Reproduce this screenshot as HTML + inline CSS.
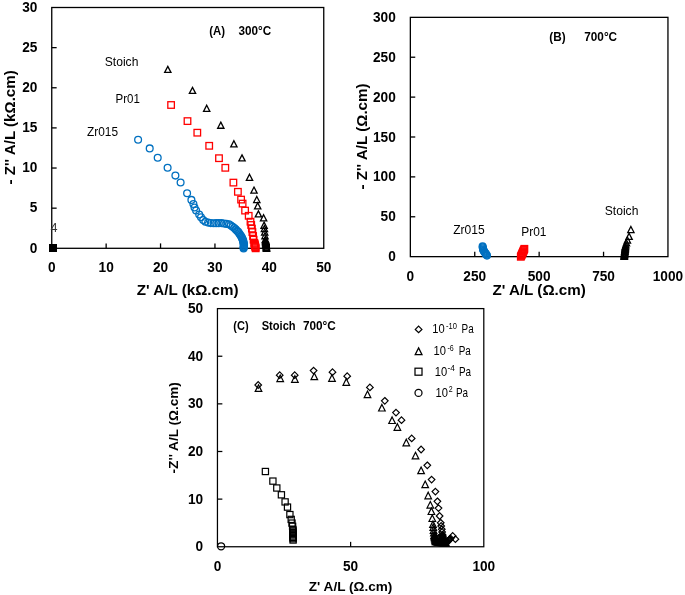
<!DOCTYPE html>
<html><head><meta charset="utf-8"><title>Impedance plots</title>
<style>html,body{margin:0;padding:0;background:#fff}svg{display:block}text{font-family:"Liberation Sans",sans-serif}</style>
</head><body>
<svg width="685" height="595" viewBox="0 0 685 595">
<rect width="685" height="595" fill="#fff"/>
<rect x="51.75" y="7.50" width="272.00" height="240.80" fill="none" stroke="#000" stroke-width="1.3"/>
<line x1="106.15" y1="248.30" x2="106.15" y2="243.40" stroke="#000" stroke-width="1.3"/>
<line x1="160.55" y1="248.30" x2="160.55" y2="243.40" stroke="#000" stroke-width="1.3"/>
<line x1="214.95" y1="248.30" x2="214.95" y2="243.40" stroke="#000" stroke-width="1.3"/>
<line x1="269.35" y1="248.30" x2="269.35" y2="243.40" stroke="#000" stroke-width="1.3"/>
<line x1="51.75" y1="208.17" x2="56.65" y2="208.17" stroke="#000" stroke-width="1.3"/>
<line x1="51.75" y1="168.03" x2="56.65" y2="168.03" stroke="#000" stroke-width="1.3"/>
<line x1="51.75" y1="127.90" x2="56.65" y2="127.90" stroke="#000" stroke-width="1.3"/>
<line x1="51.75" y1="87.77" x2="56.65" y2="87.77" stroke="#000" stroke-width="1.3"/>
<line x1="51.75" y1="47.63" x2="56.65" y2="47.63" stroke="#000" stroke-width="1.3"/>
<text x="37.40" y="252.60" font-size="14.4" font-weight="bold" text-anchor="end" textLength="7.6" lengthAdjust="spacingAndGlyphs" fill="#000">0</text>
<text x="37.40" y="212.47" font-size="14.4" font-weight="bold" text-anchor="end" textLength="7.6" lengthAdjust="spacingAndGlyphs" fill="#000">5</text>
<text x="37.40" y="172.33" font-size="14.4" font-weight="bold" text-anchor="end" textLength="15.2" lengthAdjust="spacingAndGlyphs" fill="#000">10</text>
<text x="37.40" y="132.20" font-size="14.4" font-weight="bold" text-anchor="end" textLength="15.2" lengthAdjust="spacingAndGlyphs" fill="#000">15</text>
<text x="37.40" y="92.07" font-size="14.4" font-weight="bold" text-anchor="end" textLength="15.2" lengthAdjust="spacingAndGlyphs" fill="#000">20</text>
<text x="37.40" y="51.93" font-size="14.4" font-weight="bold" text-anchor="end" textLength="15.2" lengthAdjust="spacingAndGlyphs" fill="#000">25</text>
<text x="37.40" y="11.80" font-size="14.4" font-weight="bold" text-anchor="end" textLength="15.2" lengthAdjust="spacingAndGlyphs" fill="#000">30</text>
<text x="51.75" y="272.40" font-size="14.4" font-weight="bold" text-anchor="middle" textLength="7.6" lengthAdjust="spacingAndGlyphs" fill="#000">0</text>
<text x="106.15" y="272.40" font-size="14.4" font-weight="bold" text-anchor="middle" textLength="15.2" lengthAdjust="spacingAndGlyphs" fill="#000">10</text>
<text x="160.55" y="272.40" font-size="14.4" font-weight="bold" text-anchor="middle" textLength="15.2" lengthAdjust="spacingAndGlyphs" fill="#000">20</text>
<text x="214.95" y="272.40" font-size="14.4" font-weight="bold" text-anchor="middle" textLength="15.2" lengthAdjust="spacingAndGlyphs" fill="#000">30</text>
<text x="269.35" y="272.40" font-size="14.4" font-weight="bold" text-anchor="middle" textLength="15.2" lengthAdjust="spacingAndGlyphs" fill="#000">40</text>
<text x="323.75" y="272.40" font-size="14.4" font-weight="bold" text-anchor="middle" textLength="15.2" lengthAdjust="spacingAndGlyphs" fill="#000">50</text>
<text x="136.80" y="294.50" font-size="14.0" font-weight="bold" textLength="101.7" lengthAdjust="spacingAndGlyphs" fill="#000">Z' A/L (kΩ.cm)</text>
<text transform="translate(15.30,184.60) rotate(-90)" font-size="14.2" font-weight="bold" textLength="114.4" lengthAdjust="spacingAndGlyphs" fill="#000">- Z'' A/L (kΩ.cm)</text>
<text x="209.30" y="34.60" font-size="12.8" font-weight="bold" textLength="15.8" lengthAdjust="spacingAndGlyphs" fill="#000">(A)</text>
<text x="238.50" y="34.60" font-size="12.8" font-weight="bold" textLength="32.7" lengthAdjust="spacingAndGlyphs" fill="#000">300°C</text>
<text x="104.80" y="65.80" font-size="13.3" textLength="33.6" lengthAdjust="spacingAndGlyphs" fill="#000">Stoich</text>
<text x="115.60" y="102.60" font-size="13.3" textLength="24.3" lengthAdjust="spacingAndGlyphs" fill="#000">Pr01</text>
<text x="87.00" y="136.20" font-size="13.3" textLength="31.0" lengthAdjust="spacingAndGlyphs" fill="#000">Zr015</text>
<text x="50.40" y="232.30" font-size="12.6" fill="#333">4</text>
<rect x="49.50" y="244.50" width="7.0" height="7.0" fill="#000" stroke="#000" stroke-width="1"/>
<circle cx="138.10" cy="139.80" r="3.4" fill="none" stroke="#0070c0" stroke-width="1.3"/>
<circle cx="149.70" cy="148.40" r="3.4" fill="none" stroke="#0070c0" stroke-width="1.3"/>
<circle cx="157.70" cy="157.70" r="3.4" fill="none" stroke="#0070c0" stroke-width="1.3"/>
<circle cx="167.60" cy="167.80" r="3.4" fill="none" stroke="#0070c0" stroke-width="1.3"/>
<circle cx="175.40" cy="175.60" r="3.4" fill="none" stroke="#0070c0" stroke-width="1.3"/>
<circle cx="180.60" cy="182.50" r="3.4" fill="none" stroke="#0070c0" stroke-width="1.3"/>
<circle cx="187.10" cy="193.20" r="3.4" fill="none" stroke="#0070c0" stroke-width="1.3"/>
<circle cx="191.40" cy="199.90" r="3.4" fill="none" stroke="#0070c0" stroke-width="1.3"/>
<circle cx="193.40" cy="204.00" r="3.4" fill="none" stroke="#0070c0" stroke-width="1.3"/>
<circle cx="194.50" cy="207.50" r="3.4" fill="none" stroke="#0070c0" stroke-width="1.3"/>
<circle cx="196.10" cy="210.50" r="3.4" fill="none" stroke="#0070c0" stroke-width="1.3"/>
<circle cx="199.20" cy="214.50" r="3.4" fill="none" stroke="#0070c0" stroke-width="1.3"/>
<circle cx="201.00" cy="217.30" r="3.4" fill="none" stroke="#0070c0" stroke-width="1.3"/>
<circle cx="203.20" cy="220.00" r="3.4" fill="none" stroke="#0070c0" stroke-width="1.3"/>
<circle cx="205.40" cy="221.70" r="3.4" fill="none" stroke="#0070c0" stroke-width="1.3"/>
<circle cx="208.10" cy="222.60" r="3.4" fill="none" stroke="#0070c0" stroke-width="1.3"/>
<circle cx="210.80" cy="223.10" r="3.4" fill="none" stroke="#0070c0" stroke-width="1.3"/>
<circle cx="213.60" cy="223.20" r="3.4" fill="none" stroke="#0070c0" stroke-width="1.3"/>
<circle cx="216.18" cy="223.17" r="3.4" fill="none" stroke="#0070c0" stroke-width="1.3"/>
<circle cx="218.76" cy="223.13" r="3.4" fill="none" stroke="#0070c0" stroke-width="1.3"/>
<circle cx="221.35" cy="223.10" r="3.4" fill="none" stroke="#0070c0" stroke-width="1.3"/>
<circle cx="223.90" cy="223.49" r="3.4" fill="none" stroke="#0070c0" stroke-width="1.3"/>
<circle cx="226.45" cy="223.90" r="3.4" fill="none" stroke="#0070c0" stroke-width="1.3"/>
<circle cx="229.00" cy="224.30" r="3.4" fill="none" stroke="#0070c0" stroke-width="1.3"/>
<circle cx="230.90" cy="225.59" r="3.4" fill="none" stroke="#0070c0" stroke-width="1.3"/>
<circle cx="232.66" cy="226.87" r="3.4" fill="none" stroke="#0070c0" stroke-width="1.3"/>
<circle cx="234.29" cy="228.10" r="3.4" fill="none" stroke="#0070c0" stroke-width="1.3"/>
<circle cx="235.71" cy="229.41" r="3.4" fill="none" stroke="#0070c0" stroke-width="1.3"/>
<circle cx="236.99" cy="230.69" r="3.4" fill="none" stroke="#0070c0" stroke-width="1.3"/>
<circle cx="238.21" cy="231.91" r="3.4" fill="none" stroke="#0070c0" stroke-width="1.3"/>
<circle cx="239.15" cy="233.22" r="3.4" fill="none" stroke="#0070c0" stroke-width="1.3"/>
<circle cx="239.99" cy="234.49" r="3.4" fill="none" stroke="#0070c0" stroke-width="1.3"/>
<circle cx="240.79" cy="235.69" r="3.4" fill="none" stroke="#0070c0" stroke-width="1.3"/>
<circle cx="241.50" cy="236.84" r="3.4" fill="none" stroke="#0070c0" stroke-width="1.3"/>
<circle cx="242.01" cy="238.02" r="3.4" fill="none" stroke="#0070c0" stroke-width="1.3"/>
<circle cx="242.49" cy="239.13" r="3.4" fill="none" stroke="#0070c0" stroke-width="1.3"/>
<circle cx="242.94" cy="240.17" r="3.4" fill="none" stroke="#0070c0" stroke-width="1.3"/>
<circle cx="243.32" cy="241.17" r="3.4" fill="none" stroke="#0070c0" stroke-width="1.3"/>
<circle cx="243.46" cy="242.18" r="3.4" fill="none" stroke="#0070c0" stroke-width="1.3"/>
<circle cx="243.59" cy="243.12" r="3.4" fill="none" stroke="#0070c0" stroke-width="1.3"/>
<circle cx="243.71" cy="244.02" r="3.4" fill="none" stroke="#0070c0" stroke-width="1.3"/>
<circle cx="243.83" cy="244.86" r="3.4" fill="none" stroke="#0070c0" stroke-width="1.3"/>
<circle cx="243.87" cy="245.66" r="3.4" fill="none" stroke="#0070c0" stroke-width="1.3"/>
<circle cx="243.80" cy="246.41" r="3.4" fill="none" stroke="#0070c0" stroke-width="1.3"/>
<circle cx="243.73" cy="247.12" r="3.4" fill="none" stroke="#0070c0" stroke-width="1.3"/>
<circle cx="243.66" cy="247.79" r="3.4" fill="none" stroke="#0070c0" stroke-width="1.3"/>
<circle cx="243.60" cy="248.40" r="3.4" fill="none" stroke="#0070c0" stroke-width="1.3"/>
<rect x="167.82" y="101.72" width="6.55" height="6.55" fill="none" stroke="#f00" stroke-width="1.3"/>
<rect x="184.22" y="117.82" width="6.55" height="6.55" fill="none" stroke="#f00" stroke-width="1.3"/>
<rect x="194.03" y="129.42" width="6.55" height="6.55" fill="none" stroke="#f00" stroke-width="1.3"/>
<rect x="205.92" y="142.53" width="6.55" height="6.55" fill="none" stroke="#f00" stroke-width="1.3"/>
<rect x="215.72" y="154.92" width="6.55" height="6.55" fill="none" stroke="#f00" stroke-width="1.3"/>
<rect x="222.03" y="164.53" width="6.55" height="6.55" fill="none" stroke="#f00" stroke-width="1.3"/>
<rect x="230.12" y="179.32" width="6.55" height="6.55" fill="none" stroke="#f00" stroke-width="1.3"/>
<rect x="234.62" y="188.53" width="6.55" height="6.55" fill="none" stroke="#f00" stroke-width="1.3"/>
<rect x="237.82" y="196.32" width="6.55" height="6.55" fill="none" stroke="#f00" stroke-width="1.3"/>
<rect x="239.32" y="200.32" width="6.55" height="6.55" fill="none" stroke="#f00" stroke-width="1.3"/>
<rect x="241.82" y="207.32" width="6.55" height="6.55" fill="none" stroke="#f00" stroke-width="1.3"/>
<rect x="245.42" y="212.53" width="6.55" height="6.55" fill="none" stroke="#f00" stroke-width="1.3"/>
<rect x="247.22" y="218.42" width="6.55" height="6.55" fill="none" stroke="#f00" stroke-width="1.3"/>
<rect x="247.92" y="221.72" width="6.55" height="6.55" fill="none" stroke="#f00" stroke-width="1.3"/>
<rect x="248.62" y="225.32" width="6.55" height="6.55" fill="none" stroke="#f00" stroke-width="1.3"/>
<rect x="249.12" y="228.82" width="6.55" height="6.55" fill="none" stroke="#f00" stroke-width="1.3"/>
<rect x="249.82" y="232.72" width="6.55" height="6.55" fill="none" stroke="#f00" stroke-width="1.3"/>
<rect x="250.32" y="236.42" width="6.55" height="6.55" fill="none" stroke="#f00" stroke-width="1.3"/>
<rect x="251.03" y="239.62" width="6.55" height="6.55" fill="none" stroke="#f00" stroke-width="1.3"/>
<rect x="251.26" y="240.53" width="6.55" height="6.55" fill="none" stroke="#f00" stroke-width="1.3"/>
<rect x="251.49" y="241.43" width="6.55" height="6.55" fill="none" stroke="#f00" stroke-width="1.3"/>
<rect x="251.72" y="242.33" width="6.55" height="6.55" fill="none" stroke="#f00" stroke-width="1.3"/>
<rect x="251.96" y="243.22" width="6.55" height="6.55" fill="none" stroke="#f00" stroke-width="1.3"/>
<rect x="252.19" y="244.12" width="6.55" height="6.55" fill="none" stroke="#f00" stroke-width="1.3"/>
<rect x="252.42" y="245.03" width="6.55" height="6.55" fill="none" stroke="#f00" stroke-width="1.3"/>
<path d="M167.80 66.35L170.95 72.45L164.65 72.45Z" fill="none" stroke="#000" stroke-width="1.3"/>
<path d="M192.50 87.35L195.65 93.45L189.35 93.45Z" fill="none" stroke="#000" stroke-width="1.3"/>
<path d="M206.70 105.25L209.85 111.35L203.55 111.35Z" fill="none" stroke="#000" stroke-width="1.3"/>
<path d="M220.80 122.15L223.95 128.25L217.65 128.25Z" fill="none" stroke="#000" stroke-width="1.3"/>
<path d="M233.90 140.75L237.05 146.85L230.75 146.85Z" fill="none" stroke="#000" stroke-width="1.3"/>
<path d="M242.00 154.85L245.15 160.95L238.85 160.95Z" fill="none" stroke="#000" stroke-width="1.3"/>
<path d="M249.50 174.25L252.65 180.35L246.35 180.35Z" fill="none" stroke="#000" stroke-width="1.3"/>
<path d="M254.00 187.05L257.15 193.15L250.85 193.15Z" fill="none" stroke="#000" stroke-width="1.3"/>
<path d="M256.80 196.45L259.95 202.55L253.65 202.55Z" fill="none" stroke="#000" stroke-width="1.3"/>
<path d="M257.70 202.75L260.85 208.85L254.55 208.85Z" fill="none" stroke="#000" stroke-width="1.3"/>
<path d="M258.40 210.85L261.55 216.95L255.25 216.95Z" fill="none" stroke="#000" stroke-width="1.3"/>
<path d="M263.60 214.75L266.75 220.85L260.45 220.85Z" fill="none" stroke="#000" stroke-width="1.3"/>
<path d="M264.10 222.15L267.25 228.25L260.95 228.25Z" fill="none" stroke="#000" stroke-width="1.3"/>
<path d="M264.40 225.55L267.55 231.65L261.25 231.65Z" fill="none" stroke="#000" stroke-width="1.3"/>
<path d="M264.70 229.05L267.85 235.15L261.55 235.15Z" fill="none" stroke="#000" stroke-width="1.3"/>
<path d="M265.00 232.65L268.15 238.75L261.85 238.75Z" fill="none" stroke="#000" stroke-width="1.3"/>
<path d="M265.40 236.25L268.55 242.35L262.25 242.35Z" fill="none" stroke="#000" stroke-width="1.3"/>
<path d="M265.50 237.08L268.65 243.18L262.35 243.18Z" fill="none" stroke="#000" stroke-width="1.3"/>
<path d="M265.60 237.90L268.75 244.00L262.45 244.00Z" fill="none" stroke="#000" stroke-width="1.3"/>
<path d="M265.70 238.73L268.85 244.83L262.55 244.83Z" fill="none" stroke="#000" stroke-width="1.3"/>
<path d="M265.80 239.56L268.95 245.66L262.65 245.66Z" fill="none" stroke="#000" stroke-width="1.3"/>
<path d="M265.90 240.39L269.05 246.49L262.75 246.49Z" fill="none" stroke="#000" stroke-width="1.3"/>
<path d="M266.00 241.21L269.15 247.31L262.85 247.31Z" fill="none" stroke="#000" stroke-width="1.3"/>
<path d="M266.10 242.04L269.25 248.14L262.95 248.14Z" fill="none" stroke="#000" stroke-width="1.3"/>
<path d="M266.20 242.87L269.35 248.97L263.05 248.97Z" fill="none" stroke="#000" stroke-width="1.3"/>
<path d="M266.30 243.70L269.45 249.80L263.15 249.80Z" fill="none" stroke="#000" stroke-width="1.3"/>
<path d="M266.40 244.52L269.55 250.62L263.25 250.62Z" fill="none" stroke="#000" stroke-width="1.3"/>
<path d="M266.50 245.35L269.65 251.45L263.35 251.45Z" fill="none" stroke="#000" stroke-width="1.3"/>
<rect x="410.35" y="17.35" width="257.60" height="239.30" fill="none" stroke="#000" stroke-width="1.3"/>
<line x1="474.75" y1="256.65" x2="474.75" y2="251.75" stroke="#000" stroke-width="1.3"/>
<line x1="539.15" y1="256.65" x2="539.15" y2="251.75" stroke="#000" stroke-width="1.3"/>
<line x1="603.55" y1="256.65" x2="603.55" y2="251.75" stroke="#000" stroke-width="1.3"/>
<line x1="410.35" y1="216.77" x2="415.25" y2="216.77" stroke="#000" stroke-width="1.3"/>
<line x1="410.35" y1="176.88" x2="415.25" y2="176.88" stroke="#000" stroke-width="1.3"/>
<line x1="410.35" y1="137.00" x2="415.25" y2="137.00" stroke="#000" stroke-width="1.3"/>
<line x1="410.35" y1="97.12" x2="415.25" y2="97.12" stroke="#000" stroke-width="1.3"/>
<line x1="410.35" y1="57.23" x2="415.25" y2="57.23" stroke="#000" stroke-width="1.3"/>
<text x="395.80" y="261.15" font-size="14.4" font-weight="bold" text-anchor="end" textLength="7.6" lengthAdjust="spacingAndGlyphs" fill="#000">0</text>
<text x="395.80" y="221.27" font-size="14.4" font-weight="bold" text-anchor="end" textLength="15.2" lengthAdjust="spacingAndGlyphs" fill="#000">50</text>
<text x="395.80" y="181.38" font-size="14.4" font-weight="bold" text-anchor="end" textLength="22.8" lengthAdjust="spacingAndGlyphs" fill="#000">100</text>
<text x="395.80" y="141.50" font-size="14.4" font-weight="bold" text-anchor="end" textLength="22.8" lengthAdjust="spacingAndGlyphs" fill="#000">150</text>
<text x="395.80" y="101.62" font-size="14.4" font-weight="bold" text-anchor="end" textLength="22.8" lengthAdjust="spacingAndGlyphs" fill="#000">200</text>
<text x="395.80" y="61.73" font-size="14.4" font-weight="bold" text-anchor="end" textLength="22.8" lengthAdjust="spacingAndGlyphs" fill="#000">250</text>
<text x="395.80" y="21.85" font-size="14.4" font-weight="bold" text-anchor="end" textLength="22.8" lengthAdjust="spacingAndGlyphs" fill="#000">300</text>
<text x="410.35" y="281.40" font-size="14.4" font-weight="bold" text-anchor="middle" textLength="7.6" lengthAdjust="spacingAndGlyphs" fill="#000">0</text>
<text x="474.75" y="281.40" font-size="14.4" font-weight="bold" text-anchor="middle" textLength="22.8" lengthAdjust="spacingAndGlyphs" fill="#000">250</text>
<text x="539.15" y="281.40" font-size="14.4" font-weight="bold" text-anchor="middle" textLength="22.8" lengthAdjust="spacingAndGlyphs" fill="#000">500</text>
<text x="603.55" y="281.40" font-size="14.4" font-weight="bold" text-anchor="middle" textLength="22.8" lengthAdjust="spacingAndGlyphs" fill="#000">750</text>
<text x="667.95" y="281.40" font-size="14.4" font-weight="bold" text-anchor="middle" textLength="30.4" lengthAdjust="spacingAndGlyphs" fill="#000">1000</text>
<text x="492.40" y="295.00" font-size="14.2" font-weight="bold" textLength="93.4" lengthAdjust="spacingAndGlyphs" fill="#000">Z' A/L (Ω.cm)</text>
<text transform="translate(366.90,189.60) rotate(-90)" font-size="14.2" font-weight="bold" textLength="106.2" lengthAdjust="spacingAndGlyphs" fill="#000">- Z'' A/L (Ω.cm)</text>
<text x="549.30" y="40.90" font-size="13.0" font-weight="bold" textLength="16.3" lengthAdjust="spacingAndGlyphs" fill="#000">(B)</text>
<text x="584.30" y="40.90" font-size="13.0" font-weight="bold" textLength="32.8" lengthAdjust="spacingAndGlyphs" fill="#000">700°C</text>
<text x="453.20" y="233.70" font-size="13.3" textLength="31.5" lengthAdjust="spacingAndGlyphs" fill="#000">Zr015</text>
<text x="521.30" y="235.70" font-size="13.3" textLength="25.2" lengthAdjust="spacingAndGlyphs" fill="#000">Pr01</text>
<text x="604.80" y="215.10" font-size="13.3" textLength="33.6" lengthAdjust="spacingAndGlyphs" fill="#000">Stoich</text>
<circle cx="482.60" cy="246.40" r="3.4" fill="none" stroke="#0070c0" stroke-width="1.3"/>
<circle cx="482.76" cy="247.33" r="3.4" fill="none" stroke="#0070c0" stroke-width="1.3"/>
<circle cx="482.91" cy="248.27" r="3.4" fill="none" stroke="#0070c0" stroke-width="1.3"/>
<circle cx="483.07" cy="249.20" r="3.4" fill="none" stroke="#0070c0" stroke-width="1.3"/>
<circle cx="483.28" cy="250.11" r="3.4" fill="none" stroke="#0070c0" stroke-width="1.3"/>
<circle cx="483.81" cy="250.90" r="3.4" fill="none" stroke="#0070c0" stroke-width="1.3"/>
<circle cx="484.34" cy="251.68" r="3.4" fill="none" stroke="#0070c0" stroke-width="1.3"/>
<circle cx="484.87" cy="252.47" r="3.4" fill="none" stroke="#0070c0" stroke-width="1.3"/>
<circle cx="485.40" cy="253.25" r="3.4" fill="none" stroke="#0070c0" stroke-width="1.3"/>
<circle cx="485.94" cy="254.03" r="3.4" fill="none" stroke="#0070c0" stroke-width="1.3"/>
<circle cx="486.47" cy="254.82" r="3.4" fill="none" stroke="#0070c0" stroke-width="1.3"/>
<circle cx="487.00" cy="255.60" r="3.4" fill="none" stroke="#0070c0" stroke-width="1.3"/>
<rect x="521.12" y="245.53" width="6.55" height="6.55" fill="none" stroke="#f00" stroke-width="1.3"/>
<rect x="520.76" y="246.33" width="6.55" height="6.55" fill="none" stroke="#f00" stroke-width="1.3"/>
<rect x="520.40" y="247.12" width="6.55" height="6.55" fill="none" stroke="#f00" stroke-width="1.3"/>
<rect x="520.04" y="247.93" width="6.55" height="6.55" fill="none" stroke="#f00" stroke-width="1.3"/>
<rect x="519.68" y="248.72" width="6.55" height="6.55" fill="none" stroke="#f00" stroke-width="1.3"/>
<rect x="519.32" y="249.53" width="6.55" height="6.55" fill="none" stroke="#f00" stroke-width="1.3"/>
<rect x="518.97" y="250.33" width="6.55" height="6.55" fill="none" stroke="#f00" stroke-width="1.3"/>
<rect x="518.61" y="251.12" width="6.55" height="6.55" fill="none" stroke="#f00" stroke-width="1.3"/>
<rect x="518.25" y="251.93" width="6.55" height="6.55" fill="none" stroke="#f00" stroke-width="1.3"/>
<rect x="517.88" y="252.72" width="6.55" height="6.55" fill="none" stroke="#f00" stroke-width="1.3"/>
<rect x="517.52" y="253.53" width="6.55" height="6.55" fill="none" stroke="#f00" stroke-width="1.3"/>
<path d="M630.90 226.45L634.05 232.55L627.75 232.55Z" fill="none" stroke="#000" stroke-width="1.3"/>
<path d="M629.10 233.25L632.25 239.35L625.95 239.35Z" fill="none" stroke="#000" stroke-width="1.3"/>
<path d="M627.40 237.05L630.55 243.15L624.25 243.15Z" fill="none" stroke="#000" stroke-width="1.3"/>
<path d="M626.40 239.85L629.55 245.95L623.25 245.95Z" fill="none" stroke="#000" stroke-width="1.3"/>
<path d="M625.80 241.75L628.95 247.85L622.65 247.85Z" fill="none" stroke="#000" stroke-width="1.3"/>
<path d="M625.40 243.35L628.55 249.45L622.25 249.45Z" fill="none" stroke="#000" stroke-width="1.3"/>
<path d="M625.31 244.06L628.46 250.16L622.16 250.16Z" fill="none" stroke="#000" stroke-width="1.3"/>
<path d="M625.23 244.78L628.38 250.88L622.08 250.88Z" fill="none" stroke="#000" stroke-width="1.3"/>
<path d="M625.14 245.49L628.29 251.59L621.99 251.59Z" fill="none" stroke="#000" stroke-width="1.3"/>
<path d="M625.06 246.21L628.21 252.31L621.91 252.31Z" fill="none" stroke="#000" stroke-width="1.3"/>
<path d="M624.97 246.92L628.12 253.02L621.82 253.02Z" fill="none" stroke="#000" stroke-width="1.3"/>
<path d="M624.89 247.64L628.04 253.74L621.74 253.74Z" fill="none" stroke="#000" stroke-width="1.3"/>
<path d="M624.80 248.35L627.95 254.45L621.65 254.45Z" fill="none" stroke="#000" stroke-width="1.3"/>
<path d="M624.71 249.06L627.86 255.16L621.56 255.16Z" fill="none" stroke="#000" stroke-width="1.3"/>
<path d="M624.63 249.78L627.78 255.88L621.48 255.88Z" fill="none" stroke="#000" stroke-width="1.3"/>
<path d="M624.54 250.49L627.69 256.59L621.39 256.59Z" fill="none" stroke="#000" stroke-width="1.3"/>
<path d="M624.46 251.21L627.61 257.31L621.31 257.31Z" fill="none" stroke="#000" stroke-width="1.3"/>
<path d="M624.37 251.92L627.52 258.02L621.22 258.02Z" fill="none" stroke="#000" stroke-width="1.3"/>
<path d="M624.29 252.64L627.44 258.74L621.14 258.74Z" fill="none" stroke="#000" stroke-width="1.3"/>
<path d="M624.20 253.35L627.35 259.45L621.05 259.45Z" fill="none" stroke="#000" stroke-width="1.3"/>
<rect x="217.45" y="308.60" width="266.35" height="238.15" fill="none" stroke="#000" stroke-width="1.25"/>
<line x1="350.62" y1="546.75" x2="350.62" y2="541.85" stroke="#000" stroke-width="1.25"/>
<line x1="217.45" y1="499.12" x2="222.35" y2="499.12" stroke="#000" stroke-width="1.25"/>
<line x1="217.45" y1="451.49" x2="222.35" y2="451.49" stroke="#000" stroke-width="1.25"/>
<line x1="217.45" y1="403.86" x2="222.35" y2="403.86" stroke="#000" stroke-width="1.25"/>
<line x1="217.45" y1="356.23" x2="222.35" y2="356.23" stroke="#000" stroke-width="1.25"/>
<text x="203.20" y="551.25" font-size="14.4" font-weight="bold" text-anchor="end" textLength="7.6" lengthAdjust="spacingAndGlyphs" fill="#000">0</text>
<text x="203.20" y="503.62" font-size="14.4" font-weight="bold" text-anchor="end" textLength="15.2" lengthAdjust="spacingAndGlyphs" fill="#000">10</text>
<text x="203.20" y="455.99" font-size="14.4" font-weight="bold" text-anchor="end" textLength="15.2" lengthAdjust="spacingAndGlyphs" fill="#000">20</text>
<text x="203.20" y="408.36" font-size="14.4" font-weight="bold" text-anchor="end" textLength="15.2" lengthAdjust="spacingAndGlyphs" fill="#000">30</text>
<text x="203.20" y="360.73" font-size="14.4" font-weight="bold" text-anchor="end" textLength="15.2" lengthAdjust="spacingAndGlyphs" fill="#000">40</text>
<text x="203.20" y="313.10" font-size="14.4" font-weight="bold" text-anchor="end" textLength="15.2" lengthAdjust="spacingAndGlyphs" fill="#000">50</text>
<text x="217.45" y="571.30" font-size="14.4" font-weight="bold" text-anchor="middle" textLength="7.6" lengthAdjust="spacingAndGlyphs" fill="#000">0</text>
<text x="350.62" y="571.30" font-size="14.4" font-weight="bold" text-anchor="middle" textLength="15.2" lengthAdjust="spacingAndGlyphs" fill="#000">50</text>
<text x="483.80" y="571.30" font-size="14.4" font-weight="bold" text-anchor="middle" textLength="22.8" lengthAdjust="spacingAndGlyphs" fill="#000">100</text>
<text x="308.80" y="590.60" font-size="13.4" font-weight="bold" textLength="83.5" lengthAdjust="spacingAndGlyphs" fill="#000">Z' A/L (Ω.cm)</text>
<text transform="translate(178.30,473.40) rotate(-90)" font-size="13.4" font-weight="bold" textLength="91.2" lengthAdjust="spacingAndGlyphs" fill="#000">-Z'' A/L (Ω.cm)</text>
<text x="233.30" y="329.90" font-size="13.0" font-weight="bold" textLength="15.3" lengthAdjust="spacingAndGlyphs" fill="#000">(C)</text>
<text x="261.70" y="329.90" font-size="13.0" font-weight="bold" textLength="33.9" lengthAdjust="spacingAndGlyphs" fill="#000">Stoich</text>
<text x="302.90" y="329.90" font-size="13.0" font-weight="bold" textLength="32.9" lengthAdjust="spacingAndGlyphs" fill="#000">700°C</text>
<path d="M418.60 326.10L421.90 329.40L418.60 332.70L415.30 329.40Z" fill="none" stroke="#000" stroke-width="1.25"/>
<path d="M418.60 347.90L422.00 354.70L415.20 354.70Z" fill="none" stroke="#000" stroke-width="1.25"/>
<rect x="415.00" y="368.20" width="7.0" height="7.0" fill="none" stroke="#000" stroke-width="1.25"/>
<circle cx="418.50" cy="392.90" r="3.5" fill="none" stroke="#000" stroke-width="1.25"/>
<text x="432.20" y="333.20" font-size="13.3" textLength="12.4" lengthAdjust="spacingAndGlyphs" fill="#000">10</text>
<text x="446.10" y="328.80" font-size="8.8" textLength="10.9" lengthAdjust="spacingAndGlyphs" fill="#000">-10</text>
<text x="461.60" y="333.20" font-size="13.3" textLength="12.1" lengthAdjust="spacingAndGlyphs" fill="#000">Pa</text>
<text x="433.60" y="355.10" font-size="13.3" textLength="12.4" lengthAdjust="spacingAndGlyphs" fill="#000">10</text>
<text x="447.40" y="350.70" font-size="8.8" textLength="6.3" lengthAdjust="spacingAndGlyphs" fill="#000">-6</text>
<text x="458.70" y="355.10" font-size="13.3" textLength="12.1" lengthAdjust="spacingAndGlyphs" fill="#000">Pa</text>
<text x="434.80" y="375.50" font-size="13.3" textLength="12.4" lengthAdjust="spacingAndGlyphs" fill="#000">10</text>
<text x="447.40" y="371.10" font-size="8.8" textLength="7.4" lengthAdjust="spacingAndGlyphs" fill="#000">-4</text>
<text x="459.00" y="375.50" font-size="13.3" textLength="12.1" lengthAdjust="spacingAndGlyphs" fill="#000">Pa</text>
<text x="435.60" y="396.70" font-size="13.3" textLength="12.4" lengthAdjust="spacingAndGlyphs" fill="#000">10</text>
<text x="448.70" y="392.30" font-size="8.8" textLength="3.9" lengthAdjust="spacingAndGlyphs" fill="#000">2</text>
<text x="456.00" y="396.70" font-size="13.3" textLength="12.1" lengthAdjust="spacingAndGlyphs" fill="#000">Pa</text>
<path d="M258.50 384.80L261.80 391.40L255.20 391.40Z" fill="none" stroke="#000" stroke-width="1.2"/>
<path d="M280.20 375.00L283.50 381.60L276.90 381.60Z" fill="none" stroke="#000" stroke-width="1.2"/>
<path d="M294.90 375.70L298.20 382.30L291.60 382.30Z" fill="none" stroke="#000" stroke-width="1.2"/>
<path d="M314.30 373.10L317.60 379.70L311.00 379.70Z" fill="none" stroke="#000" stroke-width="1.2"/>
<path d="M332.00 374.70L335.30 381.30L328.70 381.30Z" fill="none" stroke="#000" stroke-width="1.2"/>
<path d="M346.30 378.70L349.60 385.30L343.00 385.30Z" fill="none" stroke="#000" stroke-width="1.2"/>
<path d="M367.50 391.10L370.80 397.70L364.20 397.70Z" fill="none" stroke="#000" stroke-width="1.2"/>
<path d="M381.90 404.40L385.20 411.00L378.60 411.00Z" fill="none" stroke="#000" stroke-width="1.2"/>
<path d="M392.10 416.90L395.40 423.50L388.80 423.50Z" fill="none" stroke="#000" stroke-width="1.2"/>
<path d="M397.40 423.70L400.70 430.30L394.10 430.30Z" fill="none" stroke="#000" stroke-width="1.2"/>
<path d="M406.30 439.20L409.60 445.80L403.00 445.80Z" fill="none" stroke="#000" stroke-width="1.2"/>
<path d="M415.50 452.30L418.80 458.90L412.20 458.90Z" fill="none" stroke="#000" stroke-width="1.2"/>
<path d="M421.10 467.10L424.40 473.70L417.80 473.70Z" fill="none" stroke="#000" stroke-width="1.2"/>
<path d="M425.20 481.10L428.50 487.70L421.90 487.70Z" fill="none" stroke="#000" stroke-width="1.2"/>
<path d="M428.20 492.20L431.50 498.80L424.90 498.80Z" fill="none" stroke="#000" stroke-width="1.2"/>
<path d="M430.30 501.50L433.60 508.10L427.00 508.10Z" fill="none" stroke="#000" stroke-width="1.2"/>
<path d="M431.40 507.90L434.70 514.50L428.10 514.50Z" fill="none" stroke="#000" stroke-width="1.2"/>
<path d="M432.30 514.90L435.60 521.50L429.00 521.50Z" fill="none" stroke="#000" stroke-width="1.2"/>
<path d="M433.00 520.90L436.30 527.50L429.70 527.50Z" fill="none" stroke="#000" stroke-width="1.2"/>
<path d="M258.20 381.70L261.50 385.00L258.20 388.30L254.90 385.00Z" fill="none" stroke="#000" stroke-width="1.2"/>
<path d="M279.70 371.90L283.00 375.20L279.70 378.50L276.40 375.20Z" fill="none" stroke="#000" stroke-width="1.2"/>
<path d="M294.70 371.90L298.00 375.20L294.70 378.50L291.40 375.20Z" fill="none" stroke="#000" stroke-width="1.2"/>
<path d="M313.60 367.30L316.90 370.60L313.60 373.90L310.30 370.60Z" fill="none" stroke="#000" stroke-width="1.2"/>
<path d="M332.50 368.90L335.80 372.20L332.50 375.50L329.20 372.20Z" fill="none" stroke="#000" stroke-width="1.2"/>
<path d="M347.20 372.90L350.50 376.20L347.20 379.50L343.90 376.20Z" fill="none" stroke="#000" stroke-width="1.2"/>
<path d="M369.90 384.10L373.20 387.40L369.90 390.70L366.60 387.40Z" fill="none" stroke="#000" stroke-width="1.2"/>
<path d="M384.80 397.50L388.10 400.80L384.80 404.10L381.50 400.80Z" fill="none" stroke="#000" stroke-width="1.2"/>
<path d="M396.00 409.30L399.30 412.60L396.00 415.90L392.70 412.60Z" fill="none" stroke="#000" stroke-width="1.2"/>
<path d="M401.50 416.90L404.80 420.20L401.50 423.50L398.20 420.20Z" fill="none" stroke="#000" stroke-width="1.2"/>
<path d="M411.70 435.10L415.00 438.40L411.70 441.70L408.40 438.40Z" fill="none" stroke="#000" stroke-width="1.2"/>
<path d="M421.10 446.20L424.40 449.50L421.10 452.80L417.80 449.50Z" fill="none" stroke="#000" stroke-width="1.2"/>
<path d="M427.30 462.00L430.60 465.30L427.30 468.60L424.00 465.30Z" fill="none" stroke="#000" stroke-width="1.2"/>
<path d="M431.60 476.30L434.90 479.60L431.60 482.90L428.30 479.60Z" fill="none" stroke="#000" stroke-width="1.2"/>
<path d="M435.40 488.30L438.70 491.60L435.40 494.90L432.10 491.60Z" fill="none" stroke="#000" stroke-width="1.2"/>
<path d="M437.40 498.00L440.70 501.30L437.40 504.60L434.10 501.30Z" fill="none" stroke="#000" stroke-width="1.2"/>
<path d="M438.50 504.80L441.80 508.10L438.50 511.40L435.20 508.10Z" fill="none" stroke="#000" stroke-width="1.2"/>
<path d="M439.60 512.70L442.90 516.00L439.60 519.30L436.30 516.00Z" fill="none" stroke="#000" stroke-width="1.2"/>
<path d="M440.70 519.50L444.00 522.80L440.70 526.10L437.40 522.80Z" fill="none" stroke="#000" stroke-width="1.2"/>
<path d="M441.20 522.70L444.50 526.00L441.20 529.30L437.90 526.00Z" fill="none" stroke="#000" stroke-width="1.2"/>
<path d="M441.80 526.00L445.10 529.30L441.80 532.60L438.50 529.30Z" fill="none" stroke="#000" stroke-width="1.2"/>
<path d="M433.30 523.90L436.60 530.50L430.00 530.50Z" fill="none" stroke="#000" stroke-width="1.2"/>
<path d="M433.60 526.70L436.90 533.30L430.30 533.30Z" fill="none" stroke="#000" stroke-width="1.2"/>
<path d="M433.90 529.30L437.20 535.90L430.60 535.90Z" fill="none" stroke="#000" stroke-width="1.2"/>
<path d="M434.20 531.70L437.50 538.30L430.90 538.30Z" fill="none" stroke="#000" stroke-width="1.2"/>
<path d="M434.39 532.60L437.69 539.20L431.09 539.20Z" fill="none" stroke="#000" stroke-width="1.2"/>
<path d="M434.57 533.50L437.87 540.10L431.27 540.10Z" fill="none" stroke="#000" stroke-width="1.2"/>
<path d="M434.76 534.40L438.06 541.00L431.46 541.00Z" fill="none" stroke="#000" stroke-width="1.2"/>
<path d="M434.94 535.30L438.24 541.90L431.64 541.90Z" fill="none" stroke="#000" stroke-width="1.2"/>
<path d="M435.13 536.20L438.43 542.80L431.83 542.80Z" fill="none" stroke="#000" stroke-width="1.2"/>
<path d="M435.31 537.10L438.61 543.70L432.01 543.70Z" fill="none" stroke="#000" stroke-width="1.2"/>
<path d="M435.50 538.00L438.80 544.60L432.20 544.60Z" fill="none" stroke="#000" stroke-width="1.2"/>
<path d="M436.30 538.15L439.60 544.75L433.00 544.75Z" fill="none" stroke="#000" stroke-width="1.2"/>
<path d="M437.11 538.29L440.41 544.89L433.81 544.89Z" fill="none" stroke="#000" stroke-width="1.2"/>
<path d="M437.91 538.44L441.21 545.04L434.61 545.04Z" fill="none" stroke="#000" stroke-width="1.2"/>
<path d="M438.71 538.58L442.01 545.18L435.41 545.18Z" fill="none" stroke="#000" stroke-width="1.2"/>
<path d="M439.52 538.73L442.82 545.33L436.22 545.33Z" fill="none" stroke="#000" stroke-width="1.2"/>
<path d="M440.32 538.88L443.62 545.48L437.02 545.48Z" fill="none" stroke="#000" stroke-width="1.2"/>
<path d="M441.13 539.01L444.43 545.61L437.83 545.61Z" fill="none" stroke="#000" stroke-width="1.2"/>
<path d="M441.94 539.09L445.24 545.69L438.64 545.69Z" fill="none" stroke="#000" stroke-width="1.2"/>
<path d="M442.75 539.18L446.05 545.78L439.45 545.78Z" fill="none" stroke="#000" stroke-width="1.2"/>
<path d="M443.56 539.26L446.86 545.86L440.26 545.86Z" fill="none" stroke="#000" stroke-width="1.2"/>
<path d="M444.38 539.34L447.68 545.94L441.08 545.94Z" fill="none" stroke="#000" stroke-width="1.2"/>
<path d="M445.19 539.42L448.49 546.02L441.89 546.02Z" fill="none" stroke="#000" stroke-width="1.2"/>
<path d="M446.00 539.50L449.30 546.10L442.70 546.10Z" fill="none" stroke="#000" stroke-width="1.2"/>
<path d="M442.10 528.70L445.40 532.00L442.10 535.30L438.80 532.00Z" fill="none" stroke="#000" stroke-width="1.2"/>
<path d="M442.40 531.30L445.70 534.60L442.40 537.90L439.10 534.60Z" fill="none" stroke="#000" stroke-width="1.2"/>
<path d="M442.56 532.21L445.86 535.51L442.56 538.81L439.26 535.51Z" fill="none" stroke="#000" stroke-width="1.2"/>
<path d="M442.71 533.13L446.01 536.43L442.71 539.73L439.41 536.43Z" fill="none" stroke="#000" stroke-width="1.2"/>
<path d="M442.87 534.04L446.17 537.34L442.87 540.64L439.57 537.34Z" fill="none" stroke="#000" stroke-width="1.2"/>
<path d="M443.03 534.96L446.33 538.26L443.03 541.56L439.73 538.26Z" fill="none" stroke="#000" stroke-width="1.2"/>
<path d="M443.19 535.87L446.49 539.17L443.19 542.47L439.89 539.17Z" fill="none" stroke="#000" stroke-width="1.2"/>
<path d="M443.34 536.79L446.64 540.09L443.34 543.39L440.04 540.09Z" fill="none" stroke="#000" stroke-width="1.2"/>
<path d="M443.50 537.70L446.80 541.00L443.50 544.30L440.20 541.00Z" fill="none" stroke="#000" stroke-width="1.2"/>
<path d="M438.50 534.70L441.80 538.00L438.50 541.30L435.20 538.00Z" fill="none" stroke="#000" stroke-width="1.2"/>
<path d="M438.91 535.42L442.21 538.72L438.91 542.02L435.61 538.72Z" fill="none" stroke="#000" stroke-width="1.2"/>
<path d="M439.32 536.14L442.62 539.44L439.32 542.74L436.02 539.44Z" fill="none" stroke="#000" stroke-width="1.2"/>
<path d="M439.73 536.86L443.03 540.16L439.73 543.46L436.43 540.16Z" fill="none" stroke="#000" stroke-width="1.2"/>
<path d="M440.14 537.58L443.44 540.88L440.14 544.18L436.84 540.88Z" fill="none" stroke="#000" stroke-width="1.2"/>
<path d="M440.61 538.21L443.91 541.51L440.61 544.81L437.31 541.51Z" fill="none" stroke="#000" stroke-width="1.2"/>
<path d="M441.43 538.31L444.73 541.61L441.43 544.91L438.13 541.61Z" fill="none" stroke="#000" stroke-width="1.2"/>
<path d="M442.26 538.42L445.56 541.72L442.26 545.02L438.96 541.72Z" fill="none" stroke="#000" stroke-width="1.2"/>
<path d="M443.08 538.52L446.38 541.82L443.08 545.12L439.78 541.82Z" fill="none" stroke="#000" stroke-width="1.2"/>
<path d="M443.90 538.62L447.20 541.92L443.90 545.22L440.60 541.92Z" fill="none" stroke="#000" stroke-width="1.2"/>
<path d="M444.72 538.72L448.02 542.02L444.72 545.32L441.42 542.02Z" fill="none" stroke="#000" stroke-width="1.2"/>
<path d="M445.55 538.82L448.85 542.12L445.55 545.42L442.25 542.12Z" fill="none" stroke="#000" stroke-width="1.2"/>
<path d="M446.37 538.92L449.67 542.22L446.37 545.52L443.07 542.22Z" fill="none" stroke="#000" stroke-width="1.2"/>
<path d="M447.13 538.86L450.43 542.16L447.13 545.46L443.83 542.16Z" fill="none" stroke="#000" stroke-width="1.2"/>
<path d="M447.69 538.25L450.99 541.55L447.69 544.85L444.39 541.55Z" fill="none" stroke="#000" stroke-width="1.2"/>
<path d="M448.25 537.64L451.55 540.94L448.25 544.24L444.95 540.94Z" fill="none" stroke="#000" stroke-width="1.2"/>
<path d="M448.82 537.03L452.12 540.33L448.82 543.63L445.52 540.33Z" fill="none" stroke="#000" stroke-width="1.2"/>
<path d="M449.38 536.42L452.68 539.72L449.38 543.02L446.08 539.72Z" fill="none" stroke="#000" stroke-width="1.2"/>
<path d="M449.94 535.81L453.24 539.11L449.94 542.41L446.64 539.11Z" fill="none" stroke="#000" stroke-width="1.2"/>
<path d="M450.50 535.20L453.80 538.50L450.50 541.80L447.20 538.50Z" fill="none" stroke="#000" stroke-width="1.2"/>
<path d="M452.70 532.60L456.00 535.90L452.70 539.20L449.40 535.90Z" fill="none" stroke="#000" stroke-width="1.2"/>
<path d="M455.40 535.90L458.70 539.20L455.40 542.50L452.10 539.20Z" fill="none" stroke="#000" stroke-width="1.2"/>
<rect x="262.30" y="468.40" width="6.2" height="6.2" fill="none" stroke="#000" stroke-width="1.2"/>
<rect x="269.80" y="478.00" width="6.2" height="6.2" fill="none" stroke="#000" stroke-width="1.2"/>
<rect x="273.70" y="484.90" width="6.2" height="6.2" fill="none" stroke="#000" stroke-width="1.2"/>
<rect x="278.30" y="491.70" width="6.2" height="6.2" fill="none" stroke="#000" stroke-width="1.2"/>
<rect x="282.00" y="498.80" width="6.2" height="6.2" fill="none" stroke="#000" stroke-width="1.2"/>
<rect x="284.40" y="504.00" width="6.2" height="6.2" fill="none" stroke="#000" stroke-width="1.2"/>
<rect x="286.80" y="511.50" width="6.2" height="6.2" fill="none" stroke="#000" stroke-width="1.2"/>
<rect x="288.10" y="516.30" width="6.2" height="6.2" fill="none" stroke="#000" stroke-width="1.2"/>
<rect x="288.90" y="520.00" width="6.2" height="6.2" fill="none" stroke="#000" stroke-width="1.2"/>
<rect x="289.50" y="523.20" width="6.2" height="6.2" fill="none" stroke="#000" stroke-width="1.2"/>
<rect x="289.80" y="526.40" width="6.2" height="6.2" fill="none" stroke="#000" stroke-width="1.2"/>
<rect x="289.82" y="527.71" width="6.2" height="6.2" fill="none" stroke="#000" stroke-width="1.2"/>
<rect x="289.85" y="529.02" width="6.2" height="6.2" fill="none" stroke="#000" stroke-width="1.2"/>
<rect x="289.88" y="530.34" width="6.2" height="6.2" fill="none" stroke="#000" stroke-width="1.2"/>
<rect x="289.90" y="531.65" width="6.2" height="6.2" fill="none" stroke="#000" stroke-width="1.2"/>
<rect x="289.92" y="532.96" width="6.2" height="6.2" fill="none" stroke="#000" stroke-width="1.2"/>
<rect x="289.95" y="534.27" width="6.2" height="6.2" fill="none" stroke="#000" stroke-width="1.2"/>
<rect x="289.98" y="535.59" width="6.2" height="6.2" fill="none" stroke="#000" stroke-width="1.2"/>
<rect x="290.00" y="536.90" width="6.2" height="6.2" fill="none" stroke="#000" stroke-width="1.2"/>
<circle cx="221.10" cy="546.30" r="3.55" fill="none" stroke="#000" stroke-width="1.25"/>
</svg>
</body></html>
